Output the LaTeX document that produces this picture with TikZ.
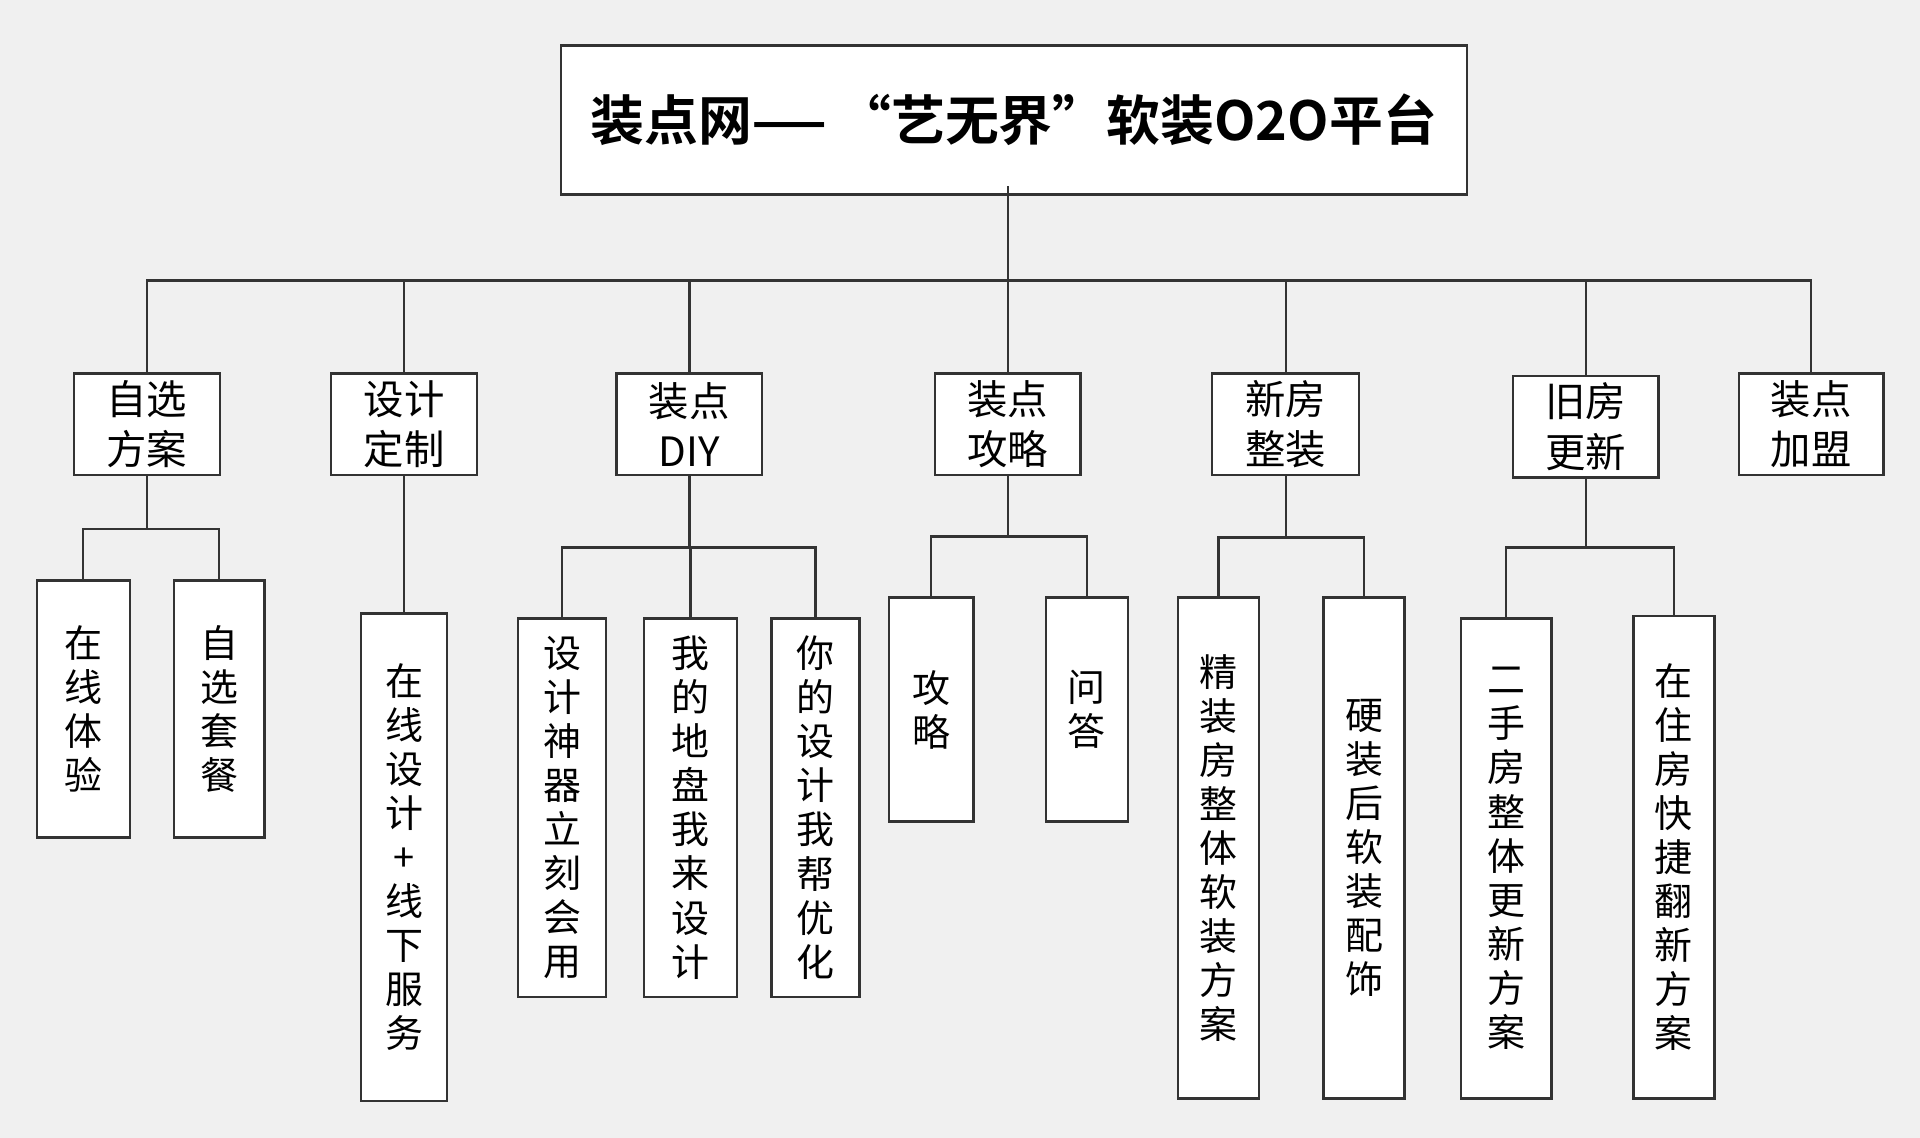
\documentclass[tikz,border=0pt]{standalone}
\usepackage{fontspec}
\setmainfont{Noto Sans CJK SC}[BoldFont={Noto Sans CJK SC Bold}]
\tikzset{
  box/.style={draw=black!80, line width=1pt, fill=white, inner sep=0pt, align=center, font=\fontsize{16.5}{20.5}\selectfont},
  vbox/.style={box, font=\fontsize{15.5}{18}\selectfont},
  link/.style={draw=black!80, line width=1pt}
}
\begin{document}
\begin{tikzpicture}[x=0.5pt,y=-0.5pt]
\fill[black!6] (0,0) rectangle (1568,929);
\useasboundingbox (0,0) rectangle (1568,929);

% root
\node[box, minimum width=370pt, minimum height=61pt, font=\fontsize{22}{24}\selectfont\bfseries] (root) at (828,98) {装点网\kern-1pt\scalebox{1.6}[1]{—}\,“艺无界”软装O2O平台};
\path (root.center) ++(-5,-7) coordinate (rc);

% second level
\node[box, minimum width=59.5pt, minimum height=41.5pt] (zx) at (120,346.5) {自选\\方案};
\node[box, minimum width=59.5pt, minimum height=41.5pt] (sj) at (330,346.5) {设计\\定制};
\node[box, minimum width=59.5pt, minimum height=41.5pt] (diy) at (563,346.5) {装点\\DIY};
\node[box, minimum width=59.5pt, minimum height=41.5pt] (gl) at (823,346.5) {装点\\攻略};
\node[box, minimum width=60pt, minimum height=41.5pt] (xf) at (1050,346.5) {新房\\整装};
\node[box, minimum width=59.5pt, minimum height=41.5pt] (jf) at (1295,348.5) {旧房\\更新};
\node[box, minimum width=59pt, minimum height=41.5pt] (jm) at (1479,346.5) {装点\\加盟};

\coordinate (bar) at (823,229);
\draw[link] (823,152) -- (bar);
\foreach \n in {zx,sj,diy,gl,xf,jf,jm}
  \draw[link] (bar) -| (\n.north);

% third level
\node[vbox, minimum width=38pt, minimum height=105pt] (zx1) at (68,579) {在\\线\\体\\验};
\node[vbox, minimum width=37pt, minimum height=105pt] (zx2) at (179,579) {自\\选\\套\\餐};
\node[vbox, minimum width=35pt, minimum height=199pt] (sj1) at (330,700) {在\\线\\设\\计\\+\\线\\下\\服\\务};
\node[vbox, minimum width=36pt, minimum height=154.5pt] (diy1) at (459,659.5) {设\\计\\神\\器\\立\\刻\\会\\用};
\node[vbox, minimum width=38pt, minimum height=154.5pt] (diy2) at (564,659.5) {我\\的\\地\\盘\\我\\来\\设\\计};
\node[vbox, minimum width=36pt, minimum height=154.5pt] (diy3) at (666,659.5) {你\\的\\设\\计\\我\\帮\\优\\化};
\node[vbox, minimum width=34.5pt, minimum height=91.5pt] (gl1) at (760.5,579.5) {攻\\略};
\node[vbox, minimum width=33.5pt, minimum height=91.5pt] (gl2) at (887.5,579.5) {问\\答};
\node[vbox, minimum width=33pt, minimum height=204.5pt] (xf1) at (995,692.5) {精\\装\\房\\整\\体\\软\\装\\方\\案};
\node[vbox, minimum width=33pt, minimum height=204.5pt] (xf2) at (1114,692.5) {硬\\装\\后\\软\\装\\配\\饰};
\node[vbox, minimum width=37pt, minimum height=196pt] (jf1) at (1230,701) {二\\手\\房\\整\\体\\更\\新\\方\\案};
\node[vbox, minimum width=33pt, minimum height=197pt] (jf2) at (1367,700) {在\\住\\房\\快\\捷\\翻\\新\\方\\案};

\coordinate (bzx) at (120,432);
\draw[link] (zx.south) -- (bzx);
\foreach \n in {zx1,zx2} \draw[link] (bzx) -| (\n.north);
\draw[link] (sj.south) -- (sj1.north);
\coordinate (bdiy) at (563,447);
\draw[link] (diy.south) -- (bdiy);
\foreach \n in {diy1,diy2,diy3} \draw[link] (bdiy) -| (\n.north);
\coordinate (bgl) at (823,438);
\draw[link] (gl.south) -- (bgl);
\foreach \n in {gl1,gl2} \draw[link] (bgl) -| (\n.north);
\coordinate (bxf) at (1050,439);
\draw[link] (xf.south) -- (bxf);
\foreach \n in {xf1,xf2} \draw[link] (bxf) -| (\n.north);
\coordinate (bjf) at (1295,447);
\draw[link] (jf.south) -- (bjf);
\foreach \n in {jf1,jf2} \draw[link] (bjf) -| (\n.north);

\end{tikzpicture}
\end{document}
